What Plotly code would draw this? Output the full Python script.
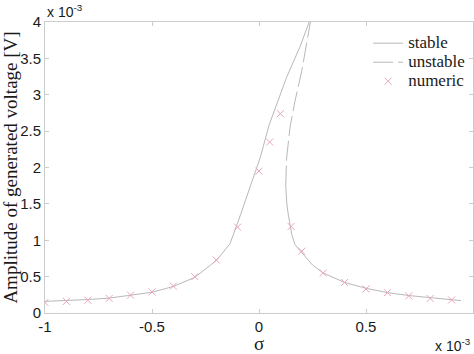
import plotly.graph_objects as go

# units: sigma in 1e-3, amplitude in 1e-3 V
stable_left_x = [-1, -0.9, -0.8, -0.7, -0.6, -0.5, -0.4, -0.3, -0.2, -0.136, -0.097, -0.042,
                 0.005, 0.048, 0.083, 0.129, 0.19, 0.235, 0.245]
stable_left_y = [0.16, 0.17, 0.185, 0.205, 0.24, 0.285, 0.365, 0.49, 0.72, 0.95, 1.26, 1.72,
                 2.13, 2.59, 2.87, 3.24, 3.65, 4.0, 4.08]

stable_right_x = [0.125, 0.13, 0.137, 0.153, 0.168, 0.2, 0.25, 0.3, 0.4, 0.5, 0.6, 0.7, 0.8, 0.9, 0.944]
stable_right_y = [1.75, 1.5, 1.35, 1.08, 0.94, 0.83, 0.66, 0.55, 0.42, 0.34, 0.28, 0.24, 0.21, 0.185, 0.17]

unstable_x = [0.125, 0.129, 0.145, 0.168, 0.2, 0.23, 0.245]
unstable_y = [1.75, 2.13, 2.55, 2.91, 3.33, 3.79, 4.08]

numeric_x = [-1, -0.9, -0.8, -0.7, -0.6, -0.5, -0.4, -0.3, -0.2, -0.1, 0, 0.05, 0.1,
             0.15, 0.2, 0.3, 0.4, 0.5, 0.6, 0.7, 0.8, 0.9]
numeric_y = [0.145, 0.16, 0.175, 0.2, 0.245, 0.29, 0.37, 0.5, 0.73, 1.18, 1.95, 2.35, 2.74,
             1.19, 0.85, 0.55, 0.42, 0.33, 0.28, 0.235, 0.2, 0.18]

x_ticks = [-1, -0.5, 0, 0.5, 1]
x_tick_text = ["-1", "-0.5", "0", "0.5", "1"]
y_ticks = [0, 0.5, 1, 1.5, 2, 2.5, 3, 3.5, 4]
y_tick_text = ["0", "0.5", "1", "1.5", "2", "2.5", "3", "3.5", "4"]

line_col = "#b8b8b8"
mark_col = "#eaa6b8"
serif = "Liberation Serif"
sans = "Liberation Sans"


def big(name):
    return '<span style="font-size:17px">' + name + '</span>'


fig = go.Figure()
fig.add_trace(go.Scatter(x=stable_left_x, y=stable_left_y, mode="lines", name=big("stable"),
                         line=dict(color=line_col, width=1), legendrank=1))
fig.add_trace(go.Scatter(x=stable_right_x, y=stable_right_y, mode="lines", showlegend=False,
                         line=dict(color=line_col, width=1)))
fig.add_trace(go.Scatter(x=unstable_x, y=unstable_y, mode="lines", name=big("unstable"),
                         line=dict(color=line_col, width=1, dash="20px,5px"), legendrank=2))
fig.add_trace(go.Scatter(x=numeric_x, y=numeric_y, mode="markers", name=big("numeric"),
                         marker=dict(symbol="x-thin", size=7, line=dict(color=mark_col, width=1),
                                     color=mark_col), legendrank=3))

axis_common = dict(showline=True, mirror="ticks", linecolor="#cccccc", linewidth=1,
                   ticks="inside", ticklen=4, tickcolor="#cccccc", showgrid=False, zeroline=False,
                   automargin=False,
                   tickfont=dict(family=sans, size=15, color="#1a1a1a"))

fig.update_layout(
    width=474, height=354,
    margin=dict(l=45, r=1, t=22, b=41),
    paper_bgcolor="white", plot_bgcolor="white",
    xaxis=dict(range=[-1, 1], tickvals=x_ticks, ticktext=x_tick_text,
               title=dict(text="σ", font=dict(family=serif, size=19, color="#1a1a1a"), standoff=8),
               **axis_common),
    yaxis=dict(range=[0, 4], tickvals=y_ticks, ticktext=y_tick_text,
               title=dict(text="Amplitude of generated voltage [V]",
                          font=dict(family=serif, size=19, color="#1a1a1a"), standoff=5),
               **axis_common),
    legend=dict(x=0.755, y=0.977, xanchor="left", yanchor="top", bgcolor="rgba(0,0,0,0)",
                font=dict(family=serif, size=12, color="#1a1a1a"), tracegroupgap=0),
    showlegend=True,
)

fig.add_annotation(text="x 10<sup>-3</sup>", xref="paper", yref="paper", x=0, y=1,
                   xanchor="left", yanchor="bottom", showarrow=False,
                   font=dict(family=sans, size=14, color="#1a1a1a"))
fig.add_annotation(text="x 10<sup>-3</sup>", xref="paper", yref="paper", x=1, y=0,
                   xanchor="right", yanchor="top", showarrow=False, yshift=-21, xshift=0,
                   font=dict(family=sans, size=14, color="#1a1a1a"))

fig.write_html("out.html")
